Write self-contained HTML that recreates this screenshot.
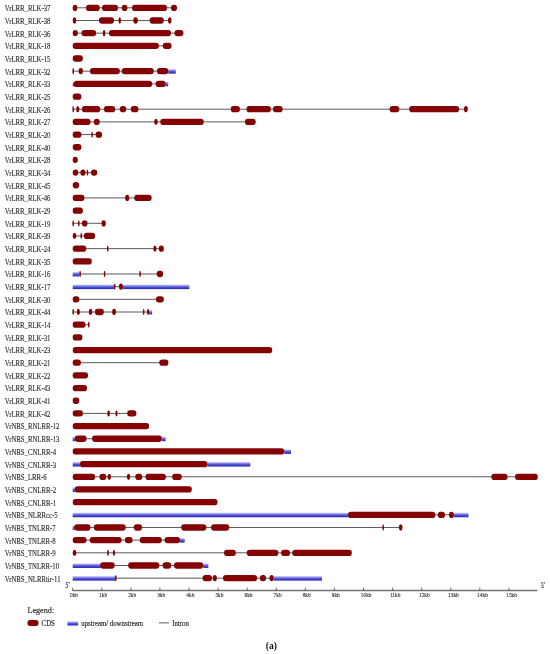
<!DOCTYPE html>
<html><head><meta charset="utf-8"><title>Gene structure</title>
<style>
html,body{margin:0;padding:0;background:#fff;}
body{width:550px;height:654px;overflow:hidden;font-family:"Liberation Serif",serif;}
svg{display:block;}
svg text{font-family:"Liberation Serif",serif;}
.lab{font-size:7.9px;fill:#2c2c2c;stroke:#2c2c2c;stroke-width:0.13px;}
.ax{font-size:6.9px;fill:#2a2a2a;stroke:#2a2a2a;stroke-width:0.12px;}
.leg{font-size:8.1px;fill:#222;stroke:#222;stroke-width:0.15px;}
.c{fill:#840404;}
.i{stroke:#5a5a5a;stroke-width:1;}
.b{fill:url(#bg);}
</style></head><body>
<svg width="550" height="654" viewBox="0 0 550 654">
<defs><linearGradient id="bg" x1="0" y1="0" x2="0" y2="1"><stop offset="0" stop-color="#dcdcfa"/><stop offset="0.5" stop-color="#5a5adc"/><stop offset="1" stop-color="#2222b2"/></linearGradient></defs>
<rect width="550" height="654" fill="#fff"/>

<g>
<text class="lab" transform="translate(4.80 11.20) scale(0.855 1)">VrLRR_RLK-37</text>
<line class="i" x1="73.7" x2="176.0" y1="7.80" y2="7.80"/>
<rect class="c" x="72.7" y="4.65" width="4.6" height="6.3" rx="2.30" ry="2.80"/>
<rect class="c" x="86.0" y="4.65" width="13.7" height="6.3" rx="2.80" ry="2.80"/>
<rect class="c" x="102.0" y="4.65" width="16.0" height="6.3" rx="2.80" ry="2.80"/>
<rect class="c" x="121.8" y="4.65" width="5.6" height="6.3" rx="2.80" ry="2.80"/>
<rect class="c" x="132.0" y="4.65" width="35.0" height="6.3" rx="2.80" ry="2.80"/>
<rect class="c" x="171.0" y="4.65" width="6.0" height="6.3" rx="2.80" ry="2.80"/>
</g>
<g>
<text class="lab" transform="translate(4.80 23.88) scale(0.855 1)">VrLRR_RLK-38</text>
<line class="i" x1="73.7" x2="170.5" y1="20.48" y2="20.48"/>
<rect class="c" x="72.7" y="17.33" width="3.6" height="6.3" rx="1.80" ry="2.80"/>
<rect class="c" x="99.0" y="17.33" width="15.0" height="6.3" rx="2.80" ry="2.80"/>
<rect class="c" x="118.5" y="17.33" width="2.5" height="6.3" rx="1.25" ry="2.80"/>
<rect class="c" x="133.3" y="17.33" width="4.6" height="6.3" rx="2.30" ry="2.80"/>
<rect class="c" x="149.6" y="17.33" width="14.2" height="6.3" rx="2.80" ry="2.80"/>
<rect class="c" x="167.9" y="17.33" width="3.6" height="6.3" rx="1.80" ry="2.80"/>
</g>
<g>
<text class="lab" transform="translate(4.80 36.55) scale(0.855 1)">VrLRR_RLK-36</text>
<line class="i" x1="73.7" x2="182.4" y1="33.15" y2="33.15"/>
<rect class="c" x="72.7" y="30.00" width="5.1" height="6.3" rx="2.55" ry="2.80"/>
<rect class="c" x="81.6" y="30.00" width="14.5" height="6.3" rx="2.80" ry="2.80"/>
<rect class="c" x="102.8" y="30.00" width="2.5" height="6.3" rx="1.25" ry="2.80"/>
<rect class="c" x="108.9" y="30.00" width="62.1" height="6.3" rx="2.80" ry="2.80"/>
<rect class="c" x="174.5" y="30.00" width="8.9" height="6.3" rx="2.80" ry="2.80"/>
</g>
<g>
<text class="lab" transform="translate(4.80 49.23) scale(0.855 1)">VrLRR_RLK-18</text>
<line class="i" x1="73.7" x2="170.5" y1="45.83" y2="45.83"/>
<rect class="c" x="72.7" y="42.68" width="86.1" height="6.3" rx="2.80" ry="2.80"/>
<rect class="c" x="162.8" y="42.68" width="8.7" height="6.3" rx="2.80" ry="2.80"/>
</g>
<g>
<text class="lab" transform="translate(4.80 61.90) scale(0.855 1)">VrLRR_RLK-15</text>
<rect class="c" x="72.7" y="55.35" width="10.2" height="6.3" rx="2.80" ry="2.80"/>
</g>
<g>
<text class="lab" transform="translate(4.80 74.58) scale(0.855 1)">VrLRR_RLK-32</text>
<line class="i" x1="73.7" x2="174.8" y1="71.17" y2="71.17"/>
<rect class="b" x="168.2" y="69.03" width="7.6" height="4.6"/>
<rect class="c" x="72.4" y="68.02" width="1.6" height="6.3" rx="0.80" ry="2.80"/>
<rect class="c" x="78.6" y="68.02" width="4.3" height="6.3" rx="2.15" ry="2.80"/>
<rect class="c" x="90.0" y="68.02" width="29.8" height="6.3" rx="2.80" ry="2.80"/>
<rect class="c" x="121.8" y="68.02" width="31.9" height="6.3" rx="2.80" ry="2.80"/>
<rect class="c" x="157.0" y="68.02" width="11.2" height="6.3" rx="2.80" ry="2.80"/>
</g>
<g>
<text class="lab" transform="translate(4.80 87.25) scale(0.855 1)">VrLRR_RLK-33</text>
<line class="i" x1="73.7" x2="167.2" y1="83.85" y2="83.85"/>
<rect class="b" x="72.7" y="81.70" width="1.6" height="4.6"/>
<rect class="b" x="165.6" y="81.70" width="2.6" height="4.6"/>
<rect class="c" x="73.7" y="80.70" width="78.4" height="6.3" rx="2.80" ry="2.80"/>
<rect class="c" x="155.7" y="80.70" width="9.9" height="6.3" rx="2.80" ry="2.80"/>
</g>
<g>
<text class="lab" transform="translate(4.80 99.93) scale(0.855 1)">VrLRR_RLK-25</text>
<rect class="c" x="72.7" y="93.38" width="8.7" height="6.3" rx="2.80" ry="2.80"/>
</g>
<g>
<text class="lab" transform="translate(4.80 112.60) scale(0.855 1)">VrLRR_RLK-26</text>
<line class="i" x1="73.7" x2="466.8" y1="109.20" y2="109.20"/>
<rect class="c" x="72.4" y="106.05" width="1.6" height="6.3" rx="0.80" ry="2.80"/>
<rect class="c" x="76.3" y="106.05" width="3.0" height="6.3" rx="1.50" ry="2.80"/>
<rect class="c" x="81.9" y="106.05" width="18.3" height="6.3" rx="2.80" ry="2.80"/>
<rect class="c" x="104.0" y="106.05" width="11.2" height="6.3" rx="2.80" ry="2.80"/>
<rect class="c" x="119.8" y="106.05" width="6.4" height="6.3" rx="2.80" ry="2.80"/>
<rect class="c" x="130.8" y="106.05" width="7.6" height="6.3" rx="2.80" ry="2.80"/>
<rect class="c" x="230.7" y="106.05" width="9.2" height="6.3" rx="2.80" ry="2.80"/>
<rect class="c" x="246.5" y="106.05" width="24.4" height="6.3" rx="2.80" ry="2.80"/>
<rect class="c" x="273.0" y="106.05" width="9.6" height="6.3" rx="2.80" ry="2.80"/>
<rect class="c" x="389.6" y="106.05" width="9.7" height="6.3" rx="2.80" ry="2.80"/>
<rect class="c" x="409.2" y="106.05" width="49.9" height="6.3" rx="2.80" ry="2.80"/>
<rect class="c" x="464.0" y="106.05" width="3.8" height="6.3" rx="1.90" ry="2.80"/>
</g>
<g>
<text class="lab" transform="translate(4.80 125.28) scale(0.855 1)">VrLRR_RLK-27</text>
<line class="i" x1="73.7" x2="254.7" y1="121.88" y2="121.88"/>
<rect class="c" x="72.7" y="118.72" width="17.8" height="6.3" rx="2.80" ry="2.80"/>
<rect class="c" x="93.9" y="118.72" width="5.8" height="6.3" rx="2.80" ry="2.80"/>
<rect class="c" x="154.2" y="118.72" width="3.5" height="6.3" rx="1.75" ry="2.80"/>
<rect class="c" x="160.3" y="118.72" width="43.4" height="6.3" rx="2.80" ry="2.80"/>
<rect class="c" x="245.0" y="118.72" width="10.7" height="6.3" rx="2.80" ry="2.80"/>
</g>
<g>
<text class="lab" transform="translate(4.80 137.95) scale(0.855 1)">VrLRR_RLK-20</text>
<line class="i" x1="73.7" x2="101.0" y1="134.55" y2="134.55"/>
<rect class="c" x="72.7" y="131.40" width="8.7" height="6.3" rx="2.80" ry="2.80"/>
<rect class="c" x="91.3" y="131.40" width="1.6" height="6.3" rx="0.80" ry="2.80"/>
<rect class="c" x="95.6" y="131.40" width="6.4" height="6.3" rx="2.80" ry="2.80"/>
</g>
<g>
<text class="lab" transform="translate(4.80 150.63) scale(0.855 1)">VrLRR_RLK-40</text>
<rect class="c" x="72.7" y="144.08" width="8.7" height="6.3" rx="2.80" ry="2.80"/>
</g>
<g>
<text class="lab" transform="translate(4.80 163.30) scale(0.855 1)">VrLRR_RLK-28</text>
<rect class="c" x="72.7" y="156.75" width="5.1" height="6.3" rx="2.55" ry="2.80"/>
</g>
<g>
<text class="lab" transform="translate(4.80 175.98) scale(0.855 1)">VrLRR_RLK-34</text>
<line class="i" x1="73.7" x2="96.2" y1="172.58" y2="172.58"/>
<rect class="c" x="72.7" y="169.43" width="5.6" height="6.3" rx="2.80" ry="2.80"/>
<rect class="c" x="80.4" y="169.43" width="5.1" height="6.3" rx="2.55" ry="2.80"/>
<rect class="c" x="86.7" y="169.43" width="1.6" height="6.3" rx="0.80" ry="2.80"/>
<rect class="c" x="91.0" y="169.43" width="6.2" height="6.3" rx="2.80" ry="2.80"/>
</g>
<g>
<text class="lab" transform="translate(4.80 188.65) scale(0.855 1)">VrLRR_RLK-45</text>
<rect class="c" x="72.7" y="182.10" width="6.4" height="6.3" rx="2.80" ry="2.80"/>
</g>
<g>
<text class="lab" transform="translate(4.80 201.33) scale(0.855 1)">VrLRR_RLK-46</text>
<line class="i" x1="73.7" x2="150.6" y1="197.93" y2="197.93"/>
<rect class="c" x="72.7" y="194.78" width="11.7" height="6.3" rx="2.80" ry="2.80"/>
<rect class="c" x="125.2" y="194.78" width="4.0" height="6.3" rx="2.00" ry="2.80"/>
<rect class="c" x="134.3" y="194.78" width="17.3" height="6.3" rx="2.80" ry="2.80"/>
</g>
<g>
<text class="lab" transform="translate(4.80 214.00) scale(0.855 1)">VrLRR_RLK-29</text>
<rect class="c" x="72.7" y="207.45" width="10.2" height="6.3" rx="2.80" ry="2.80"/>
</g>
<g>
<text class="lab" transform="translate(4.80 226.68) scale(0.855 1)">VrLRR_RLK-19</text>
<line class="i" x1="73.7" x2="104.8" y1="223.28" y2="223.28"/>
<rect class="c" x="72.4" y="220.13" width="1.6" height="6.3" rx="0.80" ry="2.80"/>
<rect class="c" x="78.0" y="220.13" width="1.6" height="6.3" rx="0.80" ry="2.80"/>
<rect class="c" x="81.9" y="220.13" width="5.6" height="6.3" rx="2.80" ry="2.80"/>
<rect class="c" x="101.5" y="220.13" width="4.3" height="6.3" rx="2.15" ry="2.80"/>
</g>
<g>
<text class="lab" transform="translate(4.80 239.35) scale(0.855 1)">VrLRR_RLK-39</text>
<line class="i" x1="73.7" x2="94.1" y1="235.95" y2="235.95"/>
<rect class="c" x="72.7" y="232.80" width="3.6" height="6.3" rx="1.80" ry="2.80"/>
<rect class="c" x="80.4" y="232.80" width="1.6" height="6.3" rx="0.80" ry="2.80"/>
<rect class="c" x="83.9" y="232.80" width="11.2" height="6.3" rx="2.80" ry="2.80"/>
</g>
<g>
<text class="lab" transform="translate(4.80 252.03) scale(0.855 1)">VrLRR_RLK-24</text>
<line class="i" x1="73.7" x2="162.8" y1="248.63" y2="248.63"/>
<rect class="c" x="72.7" y="245.48" width="13.5" height="6.3" rx="2.80" ry="2.80"/>
<rect class="c" x="107.0" y="245.48" width="1.6" height="6.3" rx="0.80" ry="2.80"/>
<rect class="c" x="153.4" y="245.48" width="3.1" height="6.3" rx="1.55" ry="2.80"/>
<rect class="c" x="158.8" y="245.48" width="5.0" height="6.3" rx="2.50" ry="2.80"/>
</g>
<g>
<text class="lab" transform="translate(4.80 264.70) scale(0.855 1)">VrLRR_RLK-35</text>
<rect class="c" x="72.7" y="258.15" width="19.1" height="6.3" rx="2.80" ry="2.80"/>
</g>
<g>
<text class="lab" transform="translate(4.80 277.38) scale(0.855 1)">VrLRR_RLK-16</text>
<line class="i" x1="73.7" x2="162.1" y1="273.98" y2="273.98"/>
<rect class="b" x="72.7" y="271.82" width="6.6" height="4.6"/>
<rect class="c" x="79.3" y="270.83" width="1.6" height="6.3" rx="0.80" ry="2.80"/>
<rect class="c" x="103.8" y="270.83" width="1.6" height="6.3" rx="0.80" ry="2.80"/>
<rect class="c" x="139.3" y="270.83" width="1.6" height="6.3" rx="0.80" ry="2.80"/>
<rect class="c" x="156.7" y="270.83" width="6.4" height="6.3" rx="2.80" ry="2.80"/>
</g>
<g>
<text class="lab" transform="translate(4.80 290.05) scale(0.855 1)">VrLRR_RLK-17</text>
<line class="i" x1="73.7" x2="188.3" y1="286.65" y2="286.65"/>
<rect class="b" x="72.7" y="284.50" width="41.2" height="4.6"/>
<rect class="b" x="122.7" y="284.50" width="66.6" height="4.6"/>
<rect class="c" x="113.7" y="283.50" width="1.8" height="6.3" rx="0.90" ry="2.80"/>
<rect class="c" x="119.0" y="283.50" width="3.9" height="6.3" rx="1.95" ry="2.80"/>
</g>
<g>
<text class="lab" transform="translate(4.80 302.73) scale(0.855 1)">VrLRR_RLK-30</text>
<line class="i" x1="73.7" x2="162.8" y1="299.33" y2="299.33"/>
<rect class="c" x="72.7" y="296.18" width="6.6" height="6.3" rx="2.80" ry="2.80"/>
<rect class="c" x="156.0" y="296.18" width="7.8" height="6.3" rx="2.80" ry="2.80"/>
</g>
<g>
<text class="lab" transform="translate(4.80 315.40) scale(0.855 1)">VrLRR_RLK-44</text>
<line class="i" x1="73.7" x2="151.1" y1="312.00" y2="312.00"/>
<rect class="b" x="149.1" y="309.85" width="3.0" height="4.6"/>
<rect class="c" x="72.4" y="308.85" width="1.6" height="6.3" rx="0.80" ry="2.80"/>
<rect class="c" x="76.8" y="308.85" width="3.1" height="6.3" rx="1.55" ry="2.80"/>
<rect class="c" x="88.8" y="308.85" width="3.5" height="6.3" rx="1.75" ry="2.80"/>
<rect class="c" x="94.9" y="308.85" width="8.9" height="6.3" rx="2.80" ry="2.80"/>
<rect class="c" x="112.2" y="308.85" width="3.8" height="6.3" rx="1.90" ry="2.80"/>
<rect class="c" x="142.9" y="308.85" width="1.6" height="6.3" rx="0.80" ry="2.80"/>
<rect class="c" x="147.0" y="308.85" width="2.1" height="6.3" rx="1.05" ry="2.80"/>
</g>
<g>
<text class="lab" transform="translate(4.80 328.07) scale(0.855 1)">VrLRR_RLK-14</text>
<line class="i" x1="73.7" x2="88.5" y1="324.68" y2="324.68"/>
<rect class="c" x="72.7" y="321.53" width="12.8" height="6.3" rx="2.80" ry="2.80"/>
<rect class="c" x="88.0" y="321.53" width="1.6" height="6.3" rx="0.80" ry="2.80"/>
</g>
<g>
<text class="lab" transform="translate(4.80 340.75) scale(0.855 1)">VrLRR_RLK-31</text>
<rect class="c" x="72.7" y="334.20" width="9.7" height="6.3" rx="2.80" ry="2.80"/>
</g>
<g>
<text class="lab" transform="translate(4.80 353.43) scale(0.855 1)">VrLRR_RLK-23</text>
<rect class="c" x="72.7" y="346.88" width="199.5" height="6.3" rx="2.80" ry="2.80"/>
</g>
<g>
<text class="lab" transform="translate(4.80 366.10) scale(0.855 1)">VrLRR_RLK-21</text>
<line class="i" x1="73.7" x2="167.4" y1="362.70" y2="362.70"/>
<rect class="c" x="72.7" y="359.55" width="8.2" height="6.3" rx="2.80" ry="2.80"/>
<rect class="c" x="159.3" y="359.55" width="9.1" height="6.3" rx="2.80" ry="2.80"/>
</g>
<g>
<text class="lab" transform="translate(4.80 378.78) scale(0.855 1)">VrLRR_RLK-22</text>
<rect class="c" x="72.7" y="372.23" width="15.3" height="6.3" rx="2.80" ry="2.80"/>
</g>
<g>
<text class="lab" transform="translate(4.80 391.45) scale(0.855 1)">VrLRR_RLK-43</text>
<rect class="c" x="72.7" y="384.90" width="14.3" height="6.3" rx="2.80" ry="2.80"/>
</g>
<g>
<text class="lab" transform="translate(4.80 404.12) scale(0.855 1)">VrLRR_RLK-41</text>
<rect class="c" x="72.7" y="397.58" width="6.6" height="6.3" rx="2.80" ry="2.80"/>
</g>
<g>
<text class="lab" transform="translate(4.80 416.80) scale(0.855 1)">VrLRR_RLK-42</text>
<line class="i" x1="73.7" x2="135.4" y1="413.40" y2="413.40"/>
<rect class="c" x="72.7" y="410.25" width="10.2" height="6.3" rx="2.80" ry="2.80"/>
<rect class="c" x="107.3" y="410.25" width="2.6" height="6.3" rx="1.30" ry="2.80"/>
<rect class="c" x="115.5" y="410.25" width="2.0" height="6.3" rx="1.00" ry="2.80"/>
<rect class="c" x="127.2" y="410.25" width="9.2" height="6.3" rx="2.80" ry="2.80"/>
</g>
<g>
<text class="lab" transform="translate(4.80 429.48) scale(0.855 1)">VrNBS_RNLRR-12</text>
<rect class="c" x="72.7" y="422.93" width="76.4" height="6.3" rx="2.80" ry="2.80"/>
</g>
<g>
<text class="lab" transform="translate(4.80 442.15) scale(0.855 1)">VrNBS_RNLRR-13</text>
<line class="i" x1="73.7" x2="164.6" y1="438.75" y2="438.75"/>
<rect class="b" x="72.7" y="436.60" width="2.6" height="4.6"/>
<rect class="b" x="161.8" y="436.60" width="3.8" height="4.6"/>
<rect class="c" x="74.8" y="435.60" width="11.7" height="6.3" rx="2.80" ry="2.80"/>
<rect class="c" x="92.1" y="435.60" width="69.7" height="6.3" rx="2.80" ry="2.80"/>
</g>
<g>
<text class="lab" transform="translate(4.80 454.82) scale(0.855 1)">VrNBS_CNLRR-4</text>
<line class="i" x1="73.7" x2="290.0" y1="451.43" y2="451.43"/>
<rect class="b" x="284.2" y="449.27" width="6.8" height="4.6"/>
<rect class="c" x="72.7" y="448.28" width="211.5" height="6.3" rx="2.80" ry="2.80"/>
</g>
<g>
<text class="lab" transform="translate(4.80 467.50) scale(0.855 1)">VrNBS_CNLRR-3</text>
<line class="i" x1="73.7" x2="249.3" y1="464.10" y2="464.10"/>
<rect class="b" x="72.7" y="461.95" width="7.7" height="4.6"/>
<rect class="b" x="207.3" y="461.95" width="43.0" height="4.6"/>
<rect class="c" x="79.9" y="460.95" width="127.4" height="6.3" rx="2.80" ry="2.80"/>
</g>
<g>
<text class="lab" transform="translate(4.80 480.18) scale(0.855 1)">VrNBS_LRR-6</text>
<line class="i" x1="73.7" x2="536.8" y1="476.78" y2="476.78"/>
<rect class="c" x="72.7" y="473.63" width="22.4" height="6.3" rx="2.80" ry="2.80"/>
<rect class="c" x="99.5" y="473.63" width="6.8" height="6.3" rx="2.80" ry="2.80"/>
<rect class="c" x="107.6" y="473.63" width="3.3" height="6.3" rx="1.65" ry="2.80"/>
<rect class="c" x="126.9" y="473.63" width="3.3" height="6.3" rx="1.65" ry="2.80"/>
<rect class="c" x="135.3" y="473.63" width="6.9" height="6.3" rx="2.80" ry="2.80"/>
<rect class="c" x="145.5" y="473.63" width="20.4" height="6.3" rx="2.80" ry="2.80"/>
<rect class="c" x="172.2" y="473.63" width="9.5" height="6.3" rx="2.80" ry="2.80"/>
<rect class="c" x="491.4" y="473.63" width="16.1" height="6.3" rx="2.80" ry="2.80"/>
<rect class="c" x="515.1" y="473.63" width="22.7" height="6.3" rx="2.80" ry="2.80"/>
</g>
<g>
<text class="lab" transform="translate(4.80 492.85) scale(0.855 1)">VrNBS_CNLRR-2</text>
<line class="i" x1="73.7" x2="190.8" y1="489.45" y2="489.45"/>
<rect class="b" x="72.7" y="487.30" width="2.6" height="4.6"/>
<rect class="c" x="74.8" y="486.30" width="117.0" height="6.3" rx="2.80" ry="2.80"/>
</g>
<g>
<text class="lab" transform="translate(4.80 505.53) scale(0.855 1)">VrNBS_CNLRR-1</text>
<rect class="c" x="72.7" y="498.98" width="144.8" height="6.3" rx="2.80" ry="2.80"/>
</g>
<g>
<text class="lab" transform="translate(4.80 518.20) scale(0.855 1)">VrNBS_NLRRcc-5</text>
<line class="i" x1="73.7" x2="467.5" y1="514.80" y2="514.80"/>
<rect class="b" x="72.7" y="512.65" width="275.8" height="4.6"/>
<rect class="b" x="453.9" y="512.65" width="14.6" height="4.6"/>
<rect class="c" x="348.0" y="511.65" width="87.3" height="6.3" rx="2.80" ry="2.80"/>
<rect class="c" x="437.8" y="511.65" width="7.2" height="6.3" rx="2.80" ry="2.80"/>
<rect class="c" x="449.0" y="511.65" width="4.9" height="6.3" rx="2.45" ry="2.80"/>
</g>
<g>
<text class="lab" transform="translate(4.80 530.88) scale(0.855 1)">VrNBS_TNLRR-7</text>
<line class="i" x1="73.7" x2="401.5" y1="527.48" y2="527.48"/>
<rect class="b" x="72.7" y="525.33" width="2.0" height="4.6"/>
<rect class="c" x="74.3" y="524.33" width="16.2" height="6.3" rx="2.80" ry="2.80"/>
<rect class="c" x="93.9" y="524.33" width="31.8" height="6.3" rx="2.80" ry="2.80"/>
<rect class="c" x="133.8" y="524.33" width="8.2" height="6.3" rx="2.80" ry="2.80"/>
<rect class="c" x="181.2" y="524.33" width="25.1" height="6.3" rx="2.80" ry="2.80"/>
<rect class="c" x="211.1" y="524.33" width="18.1" height="6.3" rx="2.80" ry="2.80"/>
<rect class="c" x="382.4" y="524.33" width="1.6" height="6.3" rx="0.80" ry="2.80"/>
<rect class="c" x="398.9" y="524.33" width="3.6" height="6.3" rx="1.80" ry="2.80"/>
</g>
<g>
<text class="lab" transform="translate(4.80 543.55) scale(0.855 1)">VrNBS_TNLRR-8</text>
<line class="i" x1="73.7" x2="183.7" y1="540.15" y2="540.15"/>
<rect class="b" x="180.1" y="538.00" width="4.6" height="4.6"/>
<rect class="c" x="72.7" y="537.00" width="13.8" height="6.3" rx="2.80" ry="2.80"/>
<rect class="c" x="89.8" y="537.00" width="31.8" height="6.3" rx="2.80" ry="2.80"/>
<rect class="c" x="124.9" y="537.00" width="7.6" height="6.3" rx="2.80" ry="2.80"/>
<rect class="c" x="139.7" y="537.00" width="22.1" height="6.3" rx="2.80" ry="2.80"/>
<rect class="c" x="164.6" y="537.00" width="15.5" height="6.3" rx="2.80" ry="2.80"/>
</g>
<g>
<text class="lab" transform="translate(4.80 556.22) scale(0.855 1)">VrNBS_TNLRR-9</text>
<line class="i" x1="73.7" x2="350.8" y1="552.82" y2="552.82"/>
<rect class="c" x="72.7" y="549.67" width="3.6" height="6.3" rx="1.80" ry="2.80"/>
<rect class="c" x="107.1" y="549.67" width="1.8" height="6.3" rx="0.90" ry="2.80"/>
<rect class="c" x="112.9" y="549.67" width="2.1" height="6.3" rx="1.05" ry="2.80"/>
<rect class="c" x="224.1" y="549.67" width="11.7" height="6.3" rx="2.80" ry="2.80"/>
<rect class="c" x="246.8" y="549.67" width="31.5" height="6.3" rx="2.80" ry="2.80"/>
<rect class="c" x="281.1" y="549.67" width="8.9" height="6.3" rx="2.80" ry="2.80"/>
<rect class="c" x="292.3" y="549.67" width="59.5" height="6.3" rx="2.80" ry="2.80"/>
</g>
<g>
<text class="lab" transform="translate(4.80 568.90) scale(0.855 1)">VrNBS_TNLRR-10</text>
<line class="i" x1="73.7" x2="207.3" y1="565.50" y2="565.50"/>
<rect class="b" x="72.7" y="563.35" width="28.0" height="4.6"/>
<rect class="b" x="203.2" y="563.35" width="5.1" height="4.6"/>
<rect class="c" x="100.2" y="562.35" width="14.5" height="6.3" rx="2.80" ry="2.80"/>
<rect class="c" x="128.2" y="562.35" width="31.1" height="6.3" rx="2.80" ry="2.80"/>
<rect class="c" x="162.6" y="562.35" width="8.6" height="6.3" rx="2.80" ry="2.80"/>
<rect class="c" x="174.0" y="562.35" width="29.2" height="6.3" rx="2.80" ry="2.80"/>
</g>
<g>
<text class="lab" transform="translate(4.80 581.57) scale(0.855 1)">VrNBS_NLRRtir-11</text>
<line class="i" x1="73.7" x2="321.0" y1="578.17" y2="578.17"/>
<rect class="b" x="72.7" y="576.02" width="42.8" height="4.6"/>
<rect class="b" x="273.7" y="576.02" width="48.3" height="4.6"/>
<rect class="c" x="115.0" y="575.02" width="1.6" height="6.3" rx="0.80" ry="2.80"/>
<rect class="c" x="202.6" y="575.02" width="9.4" height="6.3" rx="2.80" ry="2.80"/>
<rect class="c" x="212.8" y="575.02" width="4.0" height="6.3" rx="2.00" ry="2.80"/>
<rect class="c" x="223.0" y="575.02" width="34.1" height="6.3" rx="2.80" ry="2.80"/>
<rect class="c" x="259.9" y="575.02" width="6.1" height="6.3" rx="2.80" ry="2.80"/>
<rect class="c" x="269.5" y="575.02" width="4.2" height="6.3" rx="2.10" ry="2.80"/>
</g>
<line x1="72.3" x2="537.5" y1="590.55" y2="590.55" stroke="#747474" stroke-width="1.6"/>
<line x1="72.7" x2="72.7" y1="587.65" y2="590.55" stroke="#444" stroke-width="0.8"/>
<text class="ax" transform="translate(70.00 597.25) scale(0.78 1)">0kb</text>
<line x1="101.8" x2="101.8" y1="587.65" y2="590.55" stroke="#444" stroke-width="0.8"/>
<text class="ax" transform="translate(99.08 597.25) scale(0.78 1)">1kb</text>
<line x1="130.9" x2="130.9" y1="587.65" y2="590.55" stroke="#444" stroke-width="0.8"/>
<text class="ax" transform="translate(128.16 597.25) scale(0.78 1)">2kb</text>
<line x1="159.9" x2="159.9" y1="587.65" y2="590.55" stroke="#444" stroke-width="0.8"/>
<text class="ax" transform="translate(157.24 597.25) scale(0.78 1)">3kb</text>
<line x1="189.0" x2="189.0" y1="587.65" y2="590.55" stroke="#444" stroke-width="0.8"/>
<text class="ax" transform="translate(186.32 597.25) scale(0.78 1)">4kb</text>
<line x1="218.1" x2="218.1" y1="587.65" y2="590.55" stroke="#444" stroke-width="0.8"/>
<text class="ax" transform="translate(215.40 597.25) scale(0.78 1)">5kb</text>
<line x1="247.2" x2="247.2" y1="587.65" y2="590.55" stroke="#444" stroke-width="0.8"/>
<text class="ax" transform="translate(244.48 597.25) scale(0.78 1)">6kb</text>
<line x1="276.3" x2="276.3" y1="587.65" y2="590.55" stroke="#444" stroke-width="0.8"/>
<text class="ax" transform="translate(273.56 597.25) scale(0.78 1)">7kb</text>
<line x1="305.3" x2="305.3" y1="587.65" y2="590.55" stroke="#444" stroke-width="0.8"/>
<text class="ax" transform="translate(302.64 597.25) scale(0.78 1)">8kb</text>
<line x1="334.4" x2="334.4" y1="587.65" y2="590.55" stroke="#444" stroke-width="0.8"/>
<text class="ax" transform="translate(331.72 597.25) scale(0.78 1)">9kb</text>
<line x1="363.5" x2="363.5" y1="587.65" y2="590.55" stroke="#444" stroke-width="0.8"/>
<text class="ax" transform="translate(360.80 597.25) scale(0.78 1)">10kb</text>
<line x1="392.6" x2="392.6" y1="587.65" y2="590.55" stroke="#444" stroke-width="0.8"/>
<text class="ax" transform="translate(389.88 597.25) scale(0.78 1)">11kb</text>
<line x1="421.7" x2="421.7" y1="587.65" y2="590.55" stroke="#444" stroke-width="0.8"/>
<text class="ax" transform="translate(418.96 597.25) scale(0.78 1)">12kb</text>
<line x1="450.7" x2="450.7" y1="587.65" y2="590.55" stroke="#444" stroke-width="0.8"/>
<text class="ax" transform="translate(448.04 597.25) scale(0.78 1)">13kb</text>
<line x1="479.8" x2="479.8" y1="587.65" y2="590.55" stroke="#444" stroke-width="0.8"/>
<text class="ax" transform="translate(477.12 597.25) scale(0.78 1)">14kb</text>
<line x1="508.9" x2="508.9" y1="587.65" y2="590.55" stroke="#444" stroke-width="0.8"/>
<text class="ax" transform="translate(506.20 597.25) scale(0.78 1)">15kb</text>
<text class="ax" transform="translate(65.40 587.90) scale(0.8 1)" style="font-size:7.4px;font-style:italic">5'</text>
<text class="ax" transform="translate(540.80 587.60) scale(0.8 1)" style="font-size:7.4px">3'</text>
<text class="leg" transform="translate(27.40 613.00) scale(0.9 1)" style="font-size:9.1px">Legend:</text>
<rect class="c" x="27.5" y="619.9" width="11" height="6" rx="2.6"/>
<text class="leg" transform="translate(41.60 625.80) scale(0.84 1)">CDS</text>
<rect class="b" x="67.4" y="621.3" width="10.6" height="4.2"/>
<text class="leg" transform="translate(81.30 625.80) scale(0.84 1)">upstream/ downstream</text>
<line class="i" x1="158.8" x2="168.9" y1="622.9" y2="622.9"/>
<text class="leg" transform="translate(172.20 625.80) scale(0.84 1)">Intron</text>
<text x="271.4" y="648.6" text-anchor="middle" style="font-size:9.6px;font-weight:bold;fill:#111">(a)</text>
</svg></body></html>
